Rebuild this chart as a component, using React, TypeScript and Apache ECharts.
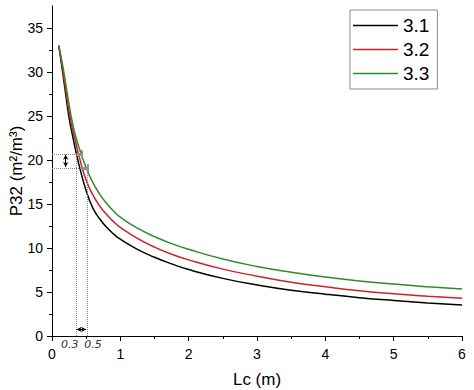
import React, { useEffect, useRef } from "react";
import * as echarts from "echarts";

const lcValues = [0.1, 0.15, 0.2, 0.25, 0.3, 0.35, 0.4, 0.5, 0.6, 0.7, 0.8, 0.9, 1.0, 1.25, 1.5, 1.75, 2.0, 2.5, 3.0, 3.5, 4.0, 4.5, 5.0, 5.5, 6.0];
const series31 = [33.0, 30.3, 27.5, 24.8, 22.8, 20.95, 19.3, 16.5, 14.5, 13.3, 12.35, 11.6, 11.0, 9.85, 8.95, 8.2, 7.55, 6.55, 5.8, 5.2, 4.75, 4.36, 4.04, 3.76, 3.52];
const series32 = [33.0, 30.6, 28.0, 25.5, 23.5, 21.9, 20.3, 17.7, 16.0, 14.75, 13.8, 13.0, 12.35, 11.1, 10.1, 9.3, 8.65, 7.6, 6.8, 6.1, 5.6, 5.15, 4.8, 4.52, 4.28];
const series33 = [33.0, 31.0, 28.7, 26.3, 24.2, 22.6, 21.3, 19.1, 17.4, 16.1, 15.05, 14.2, 13.5, 12.25, 11.3, 10.5, 9.85, 8.75, 7.9, 7.25, 6.7, 6.25, 5.9, 5.6, 5.34];
const seriesNames = ["3.1", "3.2", "3.3"];
const seriesColors = ["#000000", "#d0202a", "#2e8b2e"];

const yMajorTicks = [0, 5, 10, 15, 20, 25, 30, 35];
const yMinorTicks = [2.5, 7.5, 12.5, 17.5, 22.5, 27.5, 32.5];

// annotation values (data coordinates)
const annotLc = [0.35, 0.51];
const annotP32 = [20.7, 19.1];
const annotLabels = ["0.3", "0.5"];
const annotLabelLc = [0.26, 0.6];

const FONT = "Liberation Sans, Arial, sans-serif";

export default function App() {
  const ref = useRef<HTMLDivElement>(null);
  useEffect(() => {
    document.body.style.margin = "0";
    if (!ref.current) return;
    const chart = echarts.init(ref.current, undefined, { renderer: "svg" });
    const all = [series31, series32, series33];
    const dotted = { color: "#8a8a8a", type: "dotted", width: 1 };
    const grey = { color: "#909090", type: "solid", width: 3 };
    const arrowStyle = { color: "#000", type: "solid", width: 1 };
    const option: any = {
      animation: false,
      textStyle: { fontFamily: FONT },
      grid: { left: 52, right: 12, top: 6, bottom: 54, containLabel: false, outerBoundsMode: "none" },
      legend: {
        orient: "vertical",
        left: 350,
        top: 10,
        data: seriesNames,
        icon: "rect",
        itemWidth: 45,
        itemHeight: 1.5,
        itemGap: 3,
        padding: [5, 8, 5, 3],
        borderColor: "#8c8c8c",
        borderWidth: 1,
        textStyle: { fontSize: 19, color: "#000", fontFamily: FONT, lineHeight: 21 },
      },
      xAxis: {
        type: "value",
        min: 0,
        max: 6,
        interval: 1,
        name: "Lc (m)",
        nameLocation: "middle",
        nameGap: 35,
        nameMoveOverlap: false,
        nameTextStyle: { fontSize: 17, color: "#000", fontFamily: FONT },
        axisLine: { show: true, lineStyle: { color: "#000", width: 1 } },
        axisTick: { show: true, inside: false, length: 5, lineStyle: { color: "#000" } },
        minorTick: { show: true, splitNumber: 2, length: 3, lineStyle: { color: "#000" } },
        splitLine: { show: false },
        axisLabel: { fontSize: 14, color: "#000", margin: 11, fontFamily: FONT },
      },
      yAxis: [
        {
          type: "value",
          min: 0,
          max: 37.5,
          interval: 5,
          name: "P32 (m²/m³)",
          nameLocation: "middle",
          nameGap: 27,
          nameMoveOverlap: false,
          nameTextStyle: { fontSize: 17, color: "#000", fontFamily: FONT, lineHeight: 18 },
          axisLine: { show: true, lineStyle: { color: "#000", width: 1 } },
          axisTick: { show: true, inside: false, length: 5, customValues: yMajorTicks, lineStyle: { color: "#000" } },
          splitLine: { show: false },
          axisLabel: { fontSize: 14, color: "#000", margin: 9, customValues: yMajorTicks, fontFamily: FONT },
        },
        {
          type: "value",
          min: 0,
          max: 37.5,
          position: "left",
          axisLine: { show: false },
          axisTick: { show: true, inside: false, length: 3, customValues: yMinorTicks, lineStyle: { color: "#000" } },
          axisLabel: { show: false },
          splitLine: { show: false },
        },
      ],
      series: seriesNames.map((name, i) => {
        const s: any = {
          name,
          type: "line",
          yAxisIndex: 0,
          symbol: "none",
          smooth: 0.5,
          lineStyle: { color: seriesColors[i], width: 1.5 },
          itemStyle: { color: seriesColors[i] },
          data: lcValues.map((x, j) => [x, all[i][j]]),
          z: 2 + i,
        };
        if (i === 0) {
          s.markLine = {
            silent: true,
            symbol: "none",
            label: { show: false },
            animation: false,
            data: [
              [{ coord: [annotLc[0], 0], lineStyle: dotted }, { coord: [annotLc[0], annotP32[0]] }],
              [{ coord: [annotLc[1], 0], lineStyle: dotted }, { coord: [annotLc[1], annotP32[1]] }],
              [{ coord: [0, annotP32[0]], lineStyle: dotted }, { coord: [0.43, annotP32[0]] }],
              [{ coord: [0, annotP32[1]], lineStyle: dotted }, { coord: [0.53, annotP32[1]] }],
              [{ coord: [0.36, annotP32[0]], lineStyle: grey }, { coord: [0.43, annotP32[0]] }],
              [{ coord: [0.42, annotP32[1]], lineStyle: grey }, { coord: [0.52, annotP32[1]] }],
              [{ coord: [0.43, annotP32[0] - 0.5], lineStyle: { color: "#909090", width: 2 } }, { coord: [0.43, annotP32[0] + 0.5] }],
              [{ coord: [0.52, annotP32[1] - 0.5], lineStyle: { color: "#909090", width: 2 } }, { coord: [0.52, annotP32[1] + 0.5] }],
              [
                { coord: [0.2, annotP32[0] - 0.1], symbol: "arrow", symbolSize: [4, 5], lineStyle: arrowStyle },
                { coord: [0.2, annotP32[1] + 0.1], symbol: "arrow", symbolSize: [4, 5] },
              ],
              [
                { coord: [annotLc[0] + 0.01, 0.75], symbol: "arrow", symbolSize: [4, 5], lineStyle: arrowStyle },
                { coord: [annotLc[1] - 0.01, 0.75], symbol: "arrow", symbolSize: [4, 5] },
              ],
            ],
          };
        }
        return s;
      }),
    };
    chart.setOption(option);
    const labelGraphics = annotLabels.map((t, k) => {
      const p = chart.convertToPixel({ gridIndex: 0 }, [annotLabelLc[k], 0]) as number[];
      return {
        type: "text",
        x: p[0],
        y: p[1] + 3,
        silent: true,
        style: {
          text: t,
          fontSize: 11,
          fontStyle: "italic",
          fill: "#333",
          fontFamily: "DejaVu Sans, sans-serif",
          align: "center",
          verticalAlign: "top",
        },
      };
    });
    chart.setOption({ graphic: labelGraphics });
    return () => chart.dispose();
  }, []);
  return <div ref={ref} style={{ width: 474, height: 390 }} />;
}
